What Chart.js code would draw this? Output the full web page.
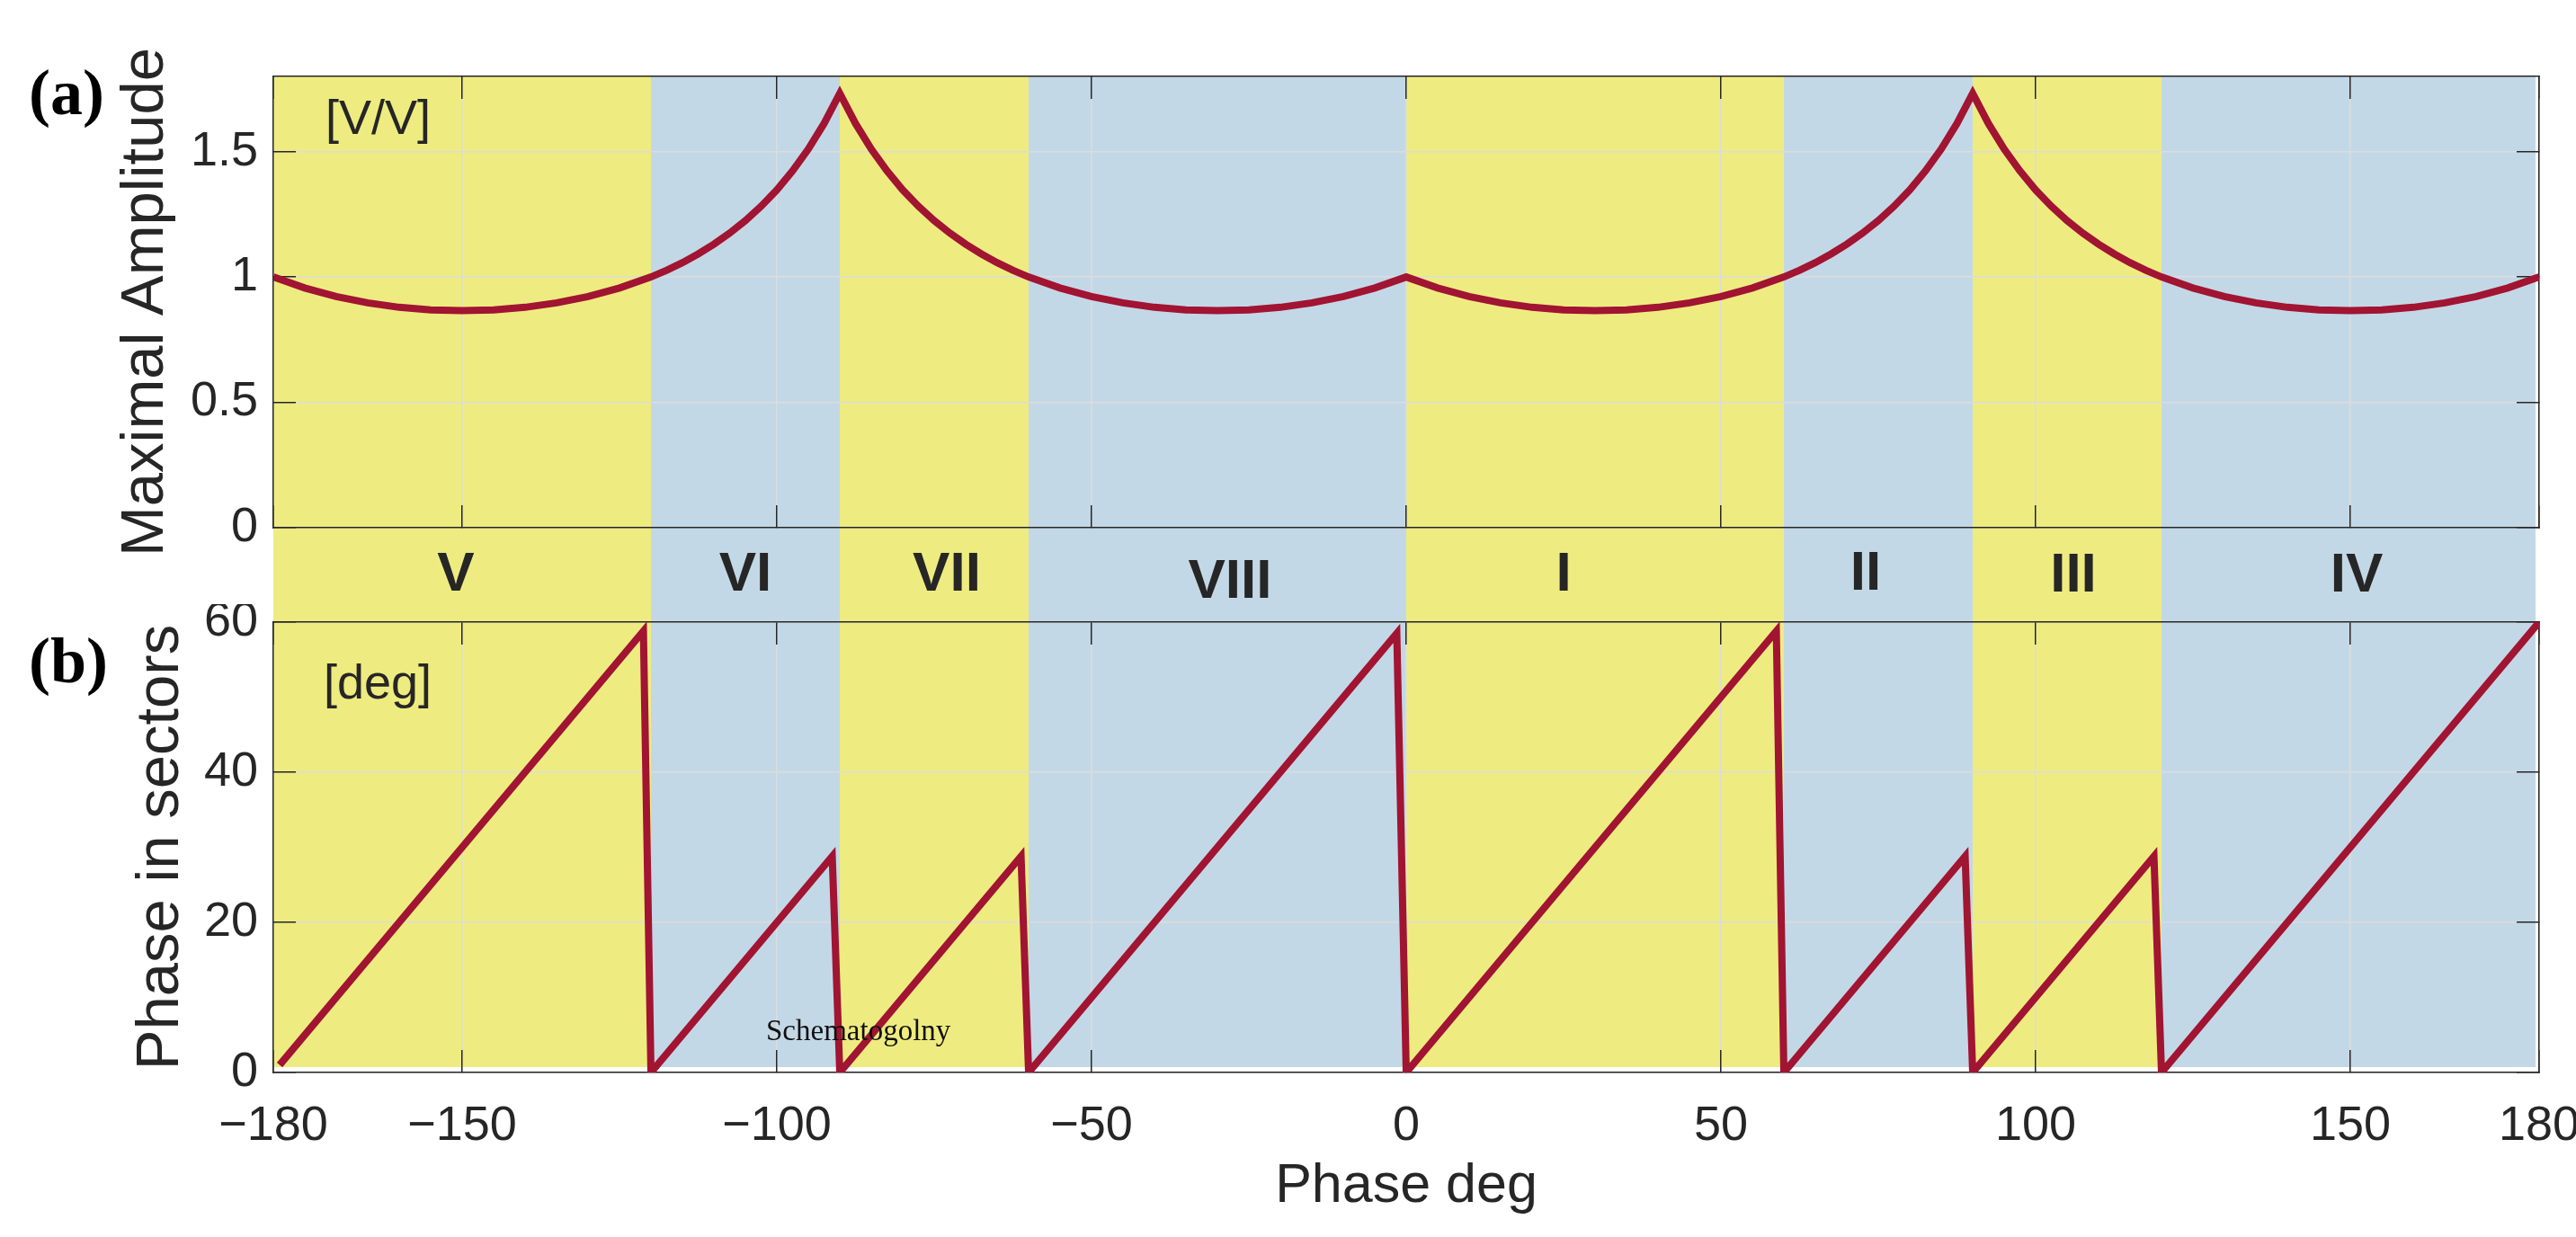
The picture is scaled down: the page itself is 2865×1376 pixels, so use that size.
<!DOCTYPE html>
<html><head><meta charset="utf-8">
<script src="https://cdn.jsdelivr.net/npm/chart.js@4.4.1/dist/chart.umd.min.js"></script>
<style>
html,body{margin:0;padding:0;background:#fff;}
#wrap{position:relative;width:2865px;height:1376px;overflow:hidden;background:#fff;}
canvas{position:absolute;left:0;}
#ca{top:0;}
#cb{top:672px;}
</style></head><body>
<div id="wrap"><canvas id="ca" width="2865" height="692"></canvas><canvas id="cb" width="2865" height="704"></canvas></div>
<script>
// ---------------- data ----------------
const xTickValues = [-180, -150, -100, -50, 0, 50, 100, 150, 180];
const xTickLabels = ['\u2212180', '\u2212150', '\u2212100', '\u221250', '0', '50', '100', '150', '180'];
const ampTickValues = [0, 0.5, 1, 1.5];
const ampTickLabels = ['0', '0.5', '1', '1.5'];
const phaseTickValues = [0, 20, 40, 60];
const phaseTickLabels = ['0', '20', '40', '60'];

const sectorNames = ['V', 'VI', 'VII', 'VIII', 'I', 'II', 'III', 'IV'];
const sectorStart = [-180, -120, -90, -60, 0, 60, 90, 120];
const sectorEnd = [-120, -90, -60, 0, 60, 90, 120, 180];
const sectorLabelPos = [-151, -105, -73, -28, 25, 73, 106, 151];

// (a) maximal amplitude [V/V] vs phase [deg]
const ampPhase = [
  -180, -175, -170, -165, -160, -155, -150, -145, -140, -135, -130, -125, -120,
  -117.5, -115, -112.5, -110, -107.5, -105, -102.5, -100, -97.5, -95, -92.5, -90,
  -87.5, -85, -82.5, -80, -77.5, -75, -72.5, -70, -67.5, -65, -62.5, -60,
  -55, -50, -45, -40, -35, -30, -25, -20, -15, -10, -5, 0,
  5, 10, 15, 20, 25, 30, 35, 40, 45, 50, 55, 60,
  62.5, 65, 67.5, 70, 72.5, 75, 77.5, 80, 82.5, 85, 87.5, 90,
  92.5, 95, 97.5, 100, 102.5, 105, 107.5, 110, 112.5, 115, 117.5, 120,
  125, 130, 135, 140, 145, 150, 155, 160, 165, 170, 175, 180
];
const ampValue = [
  1.000, 0.956, 0.922, 0.897, 0.879, 0.869, 0.866, 0.869, 0.879, 0.897, 0.922, 0.956, 1.000,
  1.027, 1.057, 1.092, 1.131, 1.175, 1.225, 1.282, 1.347, 1.423, 1.510, 1.612, 1.732,
  1.612, 1.510, 1.423, 1.347, 1.282, 1.225, 1.175, 1.131, 1.092, 1.057, 1.027, 1.000,
  0.956, 0.922, 0.897, 0.879, 0.869, 0.866, 0.869, 0.879, 0.897, 0.922, 0.956, 1.000,
  0.956, 0.922, 0.897, 0.879, 0.869, 0.866, 0.869, 0.879, 0.897, 0.922, 0.956, 1.000,
  1.027, 1.057, 1.092, 1.131, 1.175, 1.225, 1.282, 1.347, 1.423, 1.510, 1.612, 1.732,
  1.612, 1.510, 1.423, 1.347, 1.282, 1.225, 1.175, 1.131, 1.092, 1.057, 1.027, 1.000,
  0.956, 0.922, 0.897, 0.879, 0.869, 0.866, 0.869, 0.879, 0.897, 0.922, 0.956, 1.000
];

// (b) phase in sectors [deg] vs phase [deg]
const secPhase = [-179, -121.2, -120, -91.2, -90, -61.2, -60, -1.5, 0, 58.8, 60, 88.8, 90, 118.8, 120, 180];
const secValue = [1, 58.8, 0, 28.8, 0, 28.8, 0, 58.5, 0, 58.8, 0, 28.8, 0, 28.8, 0, 60];

// ---------------- style ----------------
const SANS = '"Liberation Sans", Arial, Helvetica, sans-serif';
const SERIF = '"Liberation Serif", "Times New Roman", serif';
const INK = '#262626';
const GRID = '#DCDCDC';
const RED = '#A11432';
const YEL = '#EEEC80';
const BLU = '#C3D8E6';
const bandColors = [YEL, BLU, YEL, BLU, YEL, BLU, YEL, BLU];
const sectorLabelBaseline = [657, 657, 657, 665, 657, 656, 658, 658];

function bandPlugin(getTop, getBottom) {
  return {
    id: 'bands',
    beforeDraw(chart) {
      const {ctx, chartArea} = chart;
      const xs = chart.scales.x;
      const top = getTop(chart), bottom = getBottom(chart);
      ctx.save();
      for (let i = 0; i < sectorStart.length; i++) {
        const x0 = xs.getPixelForValue(sectorStart[i]);
        const x1 = Math.min(xs.getPixelForValue(sectorEnd[i]), chartArea.right - 4);
        ctx.fillStyle = bandColors[i];
        ctx.fillRect(x0, top, x1 - x0, bottom - top);
      }
      ctx.restore();
    }
  };
}

function textPlugin(items) {
  return {
    id: 'texts',
    afterDraw(chart) {
      const ctx = chart.ctx;
      ctx.save();
      items.forEach(t => {
        ctx.font = t.font;
        ctx.fillStyle = t.color;
        ctx.textAlign = t.align || 'left';
        ctx.textBaseline = 'alphabetic';
        const x = (t.xValue !== undefined) ? chart.scales.x.getPixelForValue(t.xValue) : t.x;
        ctx.fillText(t.text, x, t.y);
      });
      ctx.restore();
    }
  };
}

function noPad(s) { s.paddingTop = 0; s.paddingBottom = 0; s.paddingLeft = 0; s.paddingRight = 0; }

function xAxis(position, withLabels, height) {
  return {
    type: 'linear', axis: 'x', position, min: -180, max: 180,
    afterBuildTicks: s => { s.ticks = xTickValues.map(v => ({value: v})); },
    afterFit: s => { s.height = height; noPad(s); },
    grid: {display: true, drawOnChartArea: position === 'bottom', color: GRID, lineWidth: 1.5,
           drawTicks: true, tickLength: -25, tickColor: INK, tickWidth: 1.5, z: -1},
    border: {display: true, color: INK, width: 1.5},
    ticks: {display: withLabels, autoSkip: false, maxRotation: 0, minRotation: 0, padding: 52.6,
            color: INK, font: {family: SANS, size: 54}, callback: (v, i) => xTickLabels[i]},
    title: withLabels ? {display: true, text: 'Phase deg', color: INK,
                         font: {family: SANS, size: 61}, padding: {top: 0, bottom: 19}}
                      : {display: false}
  };
}

function yAxis(position, min, max, tickValues, tickLabels, titleText, titleCenterX) {
  const left = position === 'left';
  return {
    type: 'linear', axis: 'y', position, min, max,
    afterBuildTicks: s => { s.ticks = tickValues.map(v => ({value: v})); },
    afterFit: s => { s.width = left ? 304 : 0; noPad(s); },
    grid: {display: true, drawOnChartArea: left, color: GRID, lineWidth: 1.5,
           drawTicks: true, tickLength: -25, tickColor: INK, tickWidth: 1.5, z: -1},
    border: {display: true, color: INK, width: 1.5},
    ticks: {display: left, padding: 42, color: INK, font: {family: SANS, size: 54},
            callback: (v, i) => tickLabels[i]},
    title: left ? {display: true, text: titleText, color: INK, font: {family: SANS, size: 67},
                   padding: {top: titleCenterX - 40.2, bottom: 0}}
                : {display: false}
  };
}

const common = {
  responsive: false, animation: false, devicePixelRatio: 1,
  plugins: {legend: {display: false}, tooltip: {enabled: false}},
  elements: {point: {radius: 0}}
};

// ---------------- chart (a) ----------------
const aTexts = [
  {text: '(a)', x: 32, y: 127, font: 'bold 72px ' + SERIF, color: '#000'},
  {text: '[V/V]', x: 362, y: 149, font: '54px ' + SANS, color: INK}
].concat(sectorNames.map((n, i) => ({
  text: n, xValue: sectorLabelPos[i], y: sectorLabelBaseline[i], align: 'center',
  font: 'bold 62px ' + SANS, color: INK
})));

new Chart(document.getElementById('ca'), {
  type: 'line',
  data: {datasets: [{
    data: ampPhase.map((x, i) => ({x, y: ampValue[i]})),
    borderColor: RED, borderWidth: 8, pointRadius: 0, fill: false, tension: 0,
    borderJoinStyle: 'miter', xAxisID: 'x', yAxisID: 'y'
  }]},
  options: Object.assign({}, common, {
    layout: {autoPadding: false, padding: {left: 0, top: 85, right: 41, bottom: 105}},
    scales: {
      x: xAxis('bottom', false, 0),
      xTop: xAxis('top', false, 0),
      y: yAxis('left', 0, 1.8, ampTickValues, ampTickLabels, 'Maximal Amplitude', 163),
      yR: yAxis('right', 0, 1.8, ampTickValues, ampTickLabels, '', 0)
    }
  }),
  plugins: [bandPlugin(c => c.chartArea.top, c => c.height), textPlugin(aTexts)]
});

// ---------------- chart (b) ----------------
const bTexts = [
  {text: '(b)', x: 32, y: 87, font: 'bold 72px ' + SERIF, color: '#000'},
  {text: '[deg]', x: 360, y: 105, font: '54px ' + SANS, color: INK},
  {text: 'Schematogolny', x: 852, y: 485, font: '33px ' + SERIF, color: '#111'}
];

new Chart(document.getElementById('cb'), {
  type: 'line',
  data: {datasets: [{
    data: secPhase.map((x, i) => ({x, y: secValue[i]})),
    borderColor: RED, borderWidth: 8, pointRadius: 0, fill: false, tension: 0,
    borderJoinStyle: 'miter', xAxisID: 'x', yAxisID: 'y'
  }]},
  options: Object.assign({}, common, {
    layout: {autoPadding: false, padding: {left: 0, top: 20, right: 41, bottom: 0}},
    scales: {
      x: xAxis('bottom', true, 183),
      xTop: xAxis('top', false, 0),
      y: yAxis('left', 0, 60, phaseTickValues, phaseTickLabels, 'Phase in sectors', 180),
      yR: yAxis('right', 0, 60, phaseTickValues, phaseTickLabels, '', 0)
    }
  }),
  plugins: [bandPlugin(c => c.chartArea.top, c => c.chartArea.bottom - 6), textPlugin(bTexts)]
});
</script>
</body></html>
